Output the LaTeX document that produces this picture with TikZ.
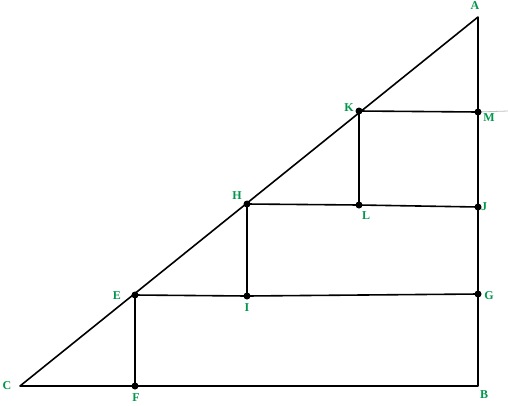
\documentclass[tikz,border=0pt]{standalone}
\usepackage{fontspec}
\setmainfont{Liberation Serif}
\definecolor{ptgreen}{RGB}{0,150,75}
\begin{document}
\begin{tikzpicture}[x=1pt,y=-1pt, line join=round, line cap=round,
  lbl/.style={text=ptgreen,font=\bfseries\fontsize{12}{12}\selectfont,inner sep=0pt},
  side/.style={line width=1.6pt}]
	\useasboundingbox (0,0) rectangle (508,405);
	\coordinate (A) at (478,17);
	\coordinate (B) at (478,386);
	\coordinate (C) at (20,386);
	\coordinate (E) at (135,295);
	\coordinate (F) at (135,386);
	\coordinate (G) at (478,294);
	\coordinate (H) at (247,204);
	\coordinate (I) at (247,296);
	\coordinate (J) at (478,207);
	\coordinate (K) at (359,111);
	\coordinate (L) at (359,205);
	\coordinate (M) at (478,112);
	\coordinate (Mr) at (508,111);
	\draw[gray!50, line width=0.8pt] (M) -- (Mr);
	\draw[side] (C) -- (A) -- (B) -- cycle;
	\draw[side] (E) -- (F) (E) -- (I) -- (G);
	\draw[side] (H) -- (I) (H) -- (L) -- (J);
	\draw[side] (K) -- (L) (K) -- (M);
	\foreach \p in {E,F,G,H,I,J,K,L,M}
		\fill (\p) circle (3.5pt);
	\node[lbl] (lA) at (475,6) {A};
	\node[lbl] (lB) at (484,395) {B};
	\node[lbl] (lC) at (7,386) {C};
	\node[lbl] (lE) at (117,296) {E};
	\node[lbl] (lF) at (136,398) {F};
	\node[lbl] (lG) at (489,296) {G};
	\node[lbl] (lH) at (237,196) {H};
	\node[lbl] (lI) at (247,308) {I};
	\node[lbl] (lJ) at (484,207) {J};
	\node[lbl] (lK) at (349,108) {K};
	\node[lbl] (lL) at (366,216) {L};
	\node[lbl] (lM) at (489,118) {M};
\end{tikzpicture}
\end{document}
